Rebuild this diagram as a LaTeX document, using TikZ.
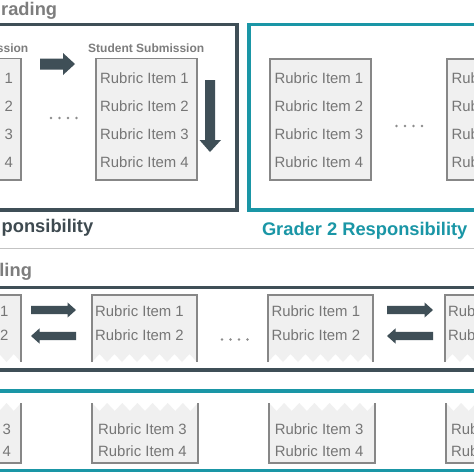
\documentclass[tikz,border=0pt]{standalone}
\usepackage{fontspec}
\setmainfont{Liberation Sans}
\definecolor{darkc}{RGB}{63,79,87}
\definecolor{tealc}{RGB}{26,150,166}
\definecolor{boxfillc}{RGB}{240,240,240}
\definecolor{boxlinec}{RGB}{135,135,135}
\definecolor{itemgray}{RGB}{118,118,118}
\definecolor{headgray}{RGB}{125,125,125}
\definecolor{darktext}{RGB}{62,74,80}
\definecolor{sepgray}{RGB}{195,195,195}
\definecolor{dotgray}{RGB}{140,140,140}
\newcommand{\tornBottom}[4]{% x1 x2 ytop ybot
  \fill[boxfillc] (#1,#3) -- (#2,#3) -- (#2,#4)
    \foreach \k in {1,...,7} { -- ({#2-(\k-0.5)*(#2-#1)/7}, {#4-8}) -- ({#2-\k*(#2-#1)/7}, #4) } -- cycle;
  \draw[boxline] (#1,#4) -- (#1,#3) -- (#2,#3) -- (#2,#4);
}
\newcommand{\tornTop}[4]{% x1 x2 ytop ybot
  \fill[boxfillc] (#1,#4) -- (#2,#4) -- (#2,#3)
    \foreach \k in {1,...,7} { -- ({#2-(\k-0.5)*(#2-#1)/7}, {#3+8}) -- ({#2-\k*(#2-#1)/7}, #3) } -- cycle;
  \draw[boxline] (#1,#3) -- (#1,#4) -- (#2,#4) -- (#2,#3);
}
% fat arrow pointing right: x1 (tail), x2 (tip), yc, shaft half, head half, head length
\newcommand{\fatRight}[6]{%
  \fill[darkc] (#1,{#3-#4}) -- ({#2-#6},{#3-#4}) -- ({#2-#6},{#3-#5}) -- (#2,#3)
    -- ({#2-#6},{#3+#5}) -- ({#2-#6},{#3+#4}) -- (#1,{#3+#4}) -- cycle;}
\newcommand{\fatLeft}[6]{% x1 (tip), x2 (tail)
  \fill[darkc] (#2,{#3-#4}) -- ({#1+#6},{#3-#4}) -- ({#1+#6},{#3-#5}) -- (#1,#3)
    -- ({#1+#6},{#3+#5}) -- ({#1+#6},{#3+#4}) -- (#2,{#3+#4}) -- cycle;}
\newcommand{\fourdots}[3]{% x start, y, spacing
  \foreach \k in {0,1,2,3} { \fill[dotgray] ({#1+\k*#3},#2) circle (1.4); }}
\begin{document}
\begin{tikzpicture}[x=1pt,y=-1pt,
  frameD/.style={draw=darkc, line width=3.6pt},
  frameT/.style={draw=tealc, line width=3.6pt},
  rbox/.style={draw=boxlinec, fill=boxfillc, line width=1.2pt},
  boxline/.style={draw=boxlinec, line width=1.2pt},
  item/.style={inner sep=0pt, text=itemgray, font=\fontsize{14.9}{16}\selectfont, anchor=base west},
  subhead/.style={inner sep=0pt, text=headgray, font=\bfseries\fontsize{12}{14}\selectfont},
  head/.style={inner sep=0pt, text=headgray, font=\bfseries\fontsize{18.3}{20}\selectfont, anchor=base west},
  resp/.style={inner sep=0pt, font=\bfseries\fontsize{18.3}{20}\selectfont, anchor=base west}
]
\useasboundingbox (0,0) rectangle (474,474);
\fill[white] (0,0) rectangle (474,474);
\clip (0,0) rectangle (474,474);

% ---------- top part ----------
\node[head] (h1) at (1,15) {rading};
\draw[frameD] (-20,24.5) rectangle (237,210);
\draw[frameT] (249,24.5) rectangle (520,210);

\draw[rbox] (-80,58.5) rectangle (21,180);
\draw[rbox] (96,58.5) rectangle (197,180);
\draw[rbox] (270,59) rectangle (371,180);
\draw[rbox] (447,59) rectangle (548,180);

\node[subhead, anchor=base east] (s0) at (28.5,52.5) {ssion};
\node[subhead, anchor=base west] (s1) at (88,52.5) {Student Submission};

\foreach \n/\yy in {1/83.3,2/111.3,3/139.3,4/167.3}{
  \node[item] (a\n) at (4.5,\yy) {\n};
  \node[item] (b\n) at (100,\yy) {Rubric Item \n};
  \node[item] (c\n) at (274.5,\yy) {Rubric Item \n};
  \node[item] (d\n) at (451.5,\yy) {Rub};
}

\fatRight{40}{75}{64}{5.5}{11}{12}
\fill[darkc] (205,80) -- (215,80) -- (215,140) -- (221,140) -- (210,152) -- (199.5,140) -- (205,140) -- cycle;
\fourdots{51}{118}{8.5}
\fourdots{396.5}{126}{8.5}

\node[resp, text=darktext] (r1) at (1.5,232.5) {ponsibility};
\node[resp, text=tealc] (r2) at (261.8,235.5) {Grader 2 Responsibility};

\draw[sepgray, line width=1.6pt] (0,248.5) -- (474,248.5);

% ---------- bottom part ----------
\node[head] (h2) at (-0.8,276.7) {ling};
\draw[frameD] (-20,287.5) rectangle (520,370);

\tornBottom{-80}{21}{295}{362}
\tornBottom{92}{197}{295}{362}
\tornBottom{268}{373}{295}{362}
\tornBottom{445}{550}{295}{362}

\node[item] (e1) at (0,316) {1};
\node[item] (e2) at (0,340) {2};
\node[item] (f1) at (95,316) {Rubric Item 1};
\node[item] (f2) at (95,340) {Rubric Item 2};
\node[item] (g1) at (271.3,316) {Rubric Item 1};
\node[item] (g2) at (271.3,340) {Rubric Item 2};
\node[item] (k1) at (448,316) {Rub};
\node[item] (k2) at (448,340) {Rub};

\fatRight{31}{76}{310}{4.2}{7.6}{8.5}
\fatLeft{31}{76}{336}{4.2}{7.6}{8.5}
\fatRight{387}{433}{310}{4.2}{7.6}{8.5}
\fatLeft{387}{433}{336}{4.2}{7.6}{8.5}
\fourdots{222}{339.5}{8.5}

\draw[frameT] (-20,391) rectangle (520,470.5);

\tornTop{-80}{21}{403}{463}
\tornTop{92}{198}{403}{463}
\tornTop{269}{375}{403}{463}
\tornTop{446}{552}{403}{463}

\node[item] (m3) at (2.5,434) {3};
\node[item] (m4) at (2.5,456) {4};
\node[item] (n3) at (98,434) {Rubric Item 3};
\node[item] (n4) at (98,456) {Rubric Item 4};
\node[item] (o3) at (274.7,434) {Rubric Item 3};
\node[item] (o4) at (274.7,456) {Rubric Item 4};
\node[item] (q3) at (451,434) {Rub};
\node[item] (q4) at (451,456) {Rub};
\end{tikzpicture}
\end{document}
